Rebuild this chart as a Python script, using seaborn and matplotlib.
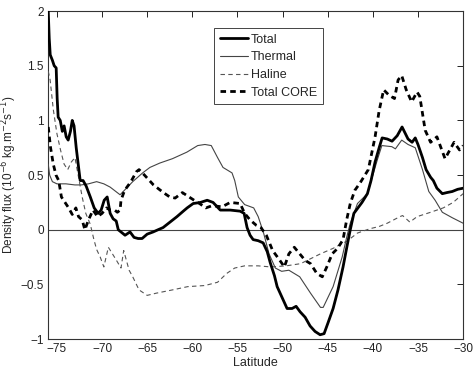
import numpy as np
import pandas as pd
import seaborn as sns
import matplotlib
matplotlib.use("Agg")
import matplotlib.pyplot as plt

# values
total_lat = [-75.96, -75.85, -75.74, -75.5, -75.3, -75.08, -74.97, -74.86, -74.63, -74.4,
             -74.2, -73.97, -73.75, -73.5, -73.3, -73.1, -72.86, -72.64, -72.42, -72.1,
             -71.76, -71.3, -70.87, -70.43, -70.1, -69.76, -69.43, -69.1, -68.77, -68.43,
             -68.2, -67.9, -67.45, -66.9, -66.45, -66.0, -65.56, -65.0, -64.34, -63.8,
             -63.24, -62.47, -61.7, -61.0, -60.57, -59.9, -59.1, -58.35, -57.7, -56.9,
             -55.8, -54.7, -54.26, -53.93, -53.6, -53.26, -52.7, -52.15, -51.7, -51.37,
             -50.9, -50.6, -50.05, -49.5, -48.95, -48.5, -48.06, -47.5, -46.95, -46.4,
             -45.84, -45.4, -44.96, -44.4, -43.86, -43.3, -42.86, -42.5, -42.1, -41.65,
             -41.2, -40.6, -40.2, -39.75, -39.3, -38.97, -38.4, -37.87, -37.3, -36.76,
             -36.4, -36.1, -35.65, -35.3, -35.0, -34.5, -34.1, -33.6, -33.3, -32.9,
             -32.3, -31.8, -31.2, -30.6, -30.0]
total_val = [2.0, 1.75, 1.6, 1.55, 1.5, 1.48, 1.2, 1.03, 1.0, 0.9,
             0.95, 0.85, 0.82, 0.9, 1.0, 0.95, 0.75, 0.6, 0.45, 0.45,
             0.4, 0.3, 0.2, 0.15, 0.18, 0.27, 0.3, 0.15, 0.1, 0.08,
             0.0, -0.02, -0.05, -0.02, -0.07, -0.08, -0.08, -0.04, -0.02, 0.0,
             0.02, 0.07, 0.12, 0.17, 0.2, 0.24, 0.25, 0.27, 0.25, 0.18,
             0.18, 0.17, 0.15, 0.02, -0.05, -0.09, -0.1, -0.12, -0.2, -0.3,
             -0.42, -0.52, -0.62, -0.72, -0.72, -0.7, -0.75, -0.8, -0.88, -0.93,
             -0.96, -0.95, -0.85, -0.72, -0.55, -0.34, -0.15, 0.0, 0.15, 0.2,
             0.25, 0.33, 0.45, 0.62, 0.75, 0.84, 0.83, 0.81, 0.86, 0.94,
             0.88, 0.83, 0.80, 0.84, 0.78, 0.66, 0.55, 0.48, 0.45, 0.38,
             0.33, 0.34, 0.35, 0.37, 0.38]

thermal_lat = [-75.96, -75.8, -75.5, -75.0, -74.0, -73.0, -72.3, -71.5, -70.6, -69.8,
               -69.1, -68.0, -67.3, -66.6, -65.5, -64.7, -63.6, -62.2, -60.6, -59.4,
               -58.6, -57.9, -57.2, -56.6, -55.6, -55.3, -54.9, -54.2, -53.2, -52.7,
               -52.1, -51.5, -50.8, -50.1, -49.3, -48.1, -46.9, -45.8, -45.5, -44.4,
               -43.4, -42.9, -42.5, -41.7, -40.6, -39.5, -39.0, -37.9, -37.5, -36.8,
               -36.1, -35.3, -34.5, -33.8, -33.1, -32.3, -31.2, -30.0]
thermal_val = [0.6, 0.5, 0.44, 0.42, 0.42, 0.41, 0.41, 0.42, 0.44, 0.42,
               0.39, 0.32, 0.38, 0.44, 0.52, 0.57, 0.61, 0.65, 0.71, 0.77,
               0.78, 0.77, 0.66, 0.57, 0.52, 0.45, 0.3, 0.23, 0.2, 0.12,
               -0.03, -0.22, -0.35, -0.38, -0.37, -0.43, -0.58, -0.71, -0.71, -0.52,
               -0.25, -0.07, 0.06, 0.24, 0.33, 0.64, 0.77, 0.76, 0.74, 0.82,
               0.78, 0.75, 0.55, 0.35, 0.27, 0.16, 0.11, 0.06]

haline_lat = [-75.96, -75.75, -75.4, -75.0, -74.6, -74.2, -73.8, -73.4, -73.0, -72.6,
              -72.2, -71.8, -71.3, -70.9, -70.6, -70.2, -69.8, -69.3, -68.4, -67.9,
              -67.6, -67.0, -66.6, -65.9, -65.0, -64.0, -62.2, -60.5, -58.6, -57.2,
              -56.2, -55.3, -54.2, -52.7, -51.3, -49.6, -48.0, -45.8, -44.4, -42.8,
              -41.7, -40.3, -39.3, -38.4, -37.0, -36.7, -35.9, -35.1, -33.6, -32.2,
              -31.1, -30.0]
haline_val = [1.45, 1.37, 1.1, 0.88, 0.73, 0.6, 0.55, 0.62, 0.66, 0.48,
              0.3, 0.15, 0.05, -0.09, -0.18, -0.25, -0.34, -0.16, -0.28, -0.35,
              -0.19, -0.37, -0.43, -0.55, -0.6, -0.58, -0.55, -0.52, -0.51, -0.48,
              -0.4, -0.35, -0.33, -0.33, -0.34, -0.33, -0.31, -0.22, -0.17, -0.1,
              -0.03, 0.01, 0.03, 0.06, 0.12, 0.13, 0.07, 0.12, 0.16, 0.2,
              0.25, 0.33]

core_lat = [-75.96, -75.7, -75.4, -75.1, -74.8, -74.5, -74.1, -73.7, -73.3, -72.9,
            -72.6, -72.2, -71.9, -71.5, -71.0, -70.5, -70.0, -69.5, -69.1, -68.6,
            -68.3, -68.0, -67.9, -67.5, -66.8, -66.2, -65.9, -65.3, -64.3, -63.2,
            -62.5, -61.9, -61.1, -59.8, -59.2, -58.5, -57.8, -56.7, -55.8, -54.7,
            -54.2, -53.6, -52.9, -52.4, -51.8, -51.1, -50.3, -49.8, -49.3, -48.7,
            -48.1, -47.5, -46.9, -46.2, -45.6, -45.1, -44.5, -43.9, -43.3, -42.9,
            -42.5, -42.0, -41.4, -40.5, -39.75, -39.3, -38.8, -38.2, -37.6, -37.2,
            -36.8, -36.3, -35.7, -35.1, -34.8, -34.2, -33.6, -32.9, -32.0, -31.0,
            -30.4, -30.0]
core_val = [0.94, 0.75, 0.6, 0.5, 0.45, 0.3, 0.25, 0.2, 0.14, 0.2,
            0.12, 0.09, 0.0, 0.09, 0.18, 0.12, 0.15, 0.2, 0.18, 0.18,
            0.16, 0.18, 0.27, 0.36, 0.44, 0.53, 0.55, 0.5, 0.41, 0.34,
            0.3, 0.29, 0.34, 0.27, 0.24, 0.2, 0.22, 0.21, 0.25, 0.24,
            0.15, 0.09, 0.04, 0.02, -0.05, -0.19, -0.28, -0.34, -0.22, -0.16,
            -0.22, -0.28, -0.31, -0.4, -0.43, -0.34, -0.22, -0.17, -0.09, 0.09,
            0.24, 0.36, 0.43, 0.55, 0.85, 1.09, 1.28, 1.23, 1.2, 1.37,
            1.41, 1.28, 1.17, 1.26, 1.22, 0.91, 0.8, 0.85, 0.65, 0.8,
            0.73, 0.77]

xticks = [-75, -70, -65, -60, -55, -50, -45, -40, -35, -30]
yticks = [-1, -0.5, 0, 0.5, 1, 1.5, 2]
ytick_labels = ["\u22121", "\u22120.5", "0", "0.5", "1", "1.5", "2"]

sns.set_style("white")
plt.rcParams["font.family"] = ["Liberation Sans", "DejaVu Sans"]

fig = plt.figure(figsize=(4.74, 3.69), dpi=100)
ax = fig.add_axes([0.101, 0.081, 0.876, 0.889])

ax.axhline(0, color="#444444", lw=0.8, zorder=1)

sns.lineplot(x=thermal_lat, y=thermal_val, ax=ax, sort=False, estimator=None,
             color="#444444", lw=0.8, label="Thermal", zorder=3)
sns.lineplot(x=haline_lat, y=haline_val, ax=ax, sort=False, estimator=None,
             color="#555555", lw=0.8, label="Haline", zorder=3)
sns.lineplot(x=core_lat, y=core_val, ax=ax, sort=False, estimator=None,
             color="black", lw=2.0, label="Total CORE", zorder=4)
sns.lineplot(x=total_lat, y=total_val, ax=ax, sort=False, estimator=None,
             color="black", lw=2.0, label="Total", zorder=5)

lines = ax.get_lines()
lines[2].set_dashes((4, 3))   # haline
lines[3].set_dashes((2, 1.5)) # core

ax.set_xlim(-76, -30)
ax.set_ylim(-1, 2)
ax.set_xticks(xticks)
ax.set_yticks(yticks)
ax.set_yticklabels(ytick_labels)
ax.tick_params(direction="in", length=4, width=0.7, top=True, right=True,
               labelsize=8.5, colors="#222222", pad=3)
ax.tick_params(axis="y", labelleft=True, labelright=False)
ax.tick_params(axis="x", labeltop=False)
for sp in ax.spines.values():
    sp.set_color("#333333")
    sp.set_linewidth(0.8)

ax.set_xlabel("Latitude", fontsize=9, labelpad=1)
ax.set_ylabel("Density flux (10$^{-6}$ kg.m$^{-2}$s$^{-1}$)", fontsize=8.5, labelpad=1)

handles, labels = ax.get_legend_handles_labels()
order = [labels.index(n) for n in ["Total", "Thermal", "Haline", "Total CORE"]]
leg = ax.legend([handles[i] for i in order], [labels[i] for i in order],
                loc="upper left", bbox_to_anchor=(0.40, 0.948), fontsize=9,
                frameon=True, fancybox=False, edgecolor="#444444", framealpha=1,
                handlelength=2.3, handletextpad=0.2, borderpad=0.45,
                labelspacing=0.45, borderaxespad=0)
leg.get_frame().set_linewidth(0.7)

fig.savefig("out.png", dpi=100)
